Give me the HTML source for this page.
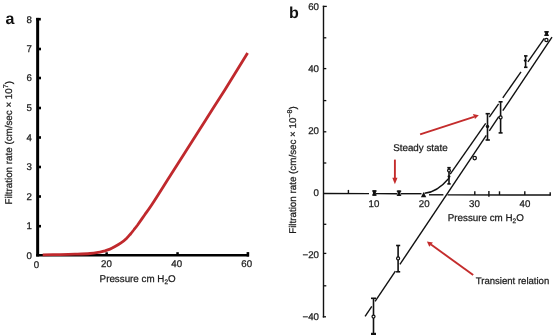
<!DOCTYPE html>
<html><head><meta charset="utf-8"><style>
html,body{margin:0;padding:0;background:#fff;width:553px;height:335px;overflow:hidden}
svg{display:block}
text{font-family:"Liberation Sans",Arial,sans-serif;fill:#1c1c1c;text-rendering:geometricPrecision;stroke:#1c1c1c;stroke-width:0.25px}
.t{font-size:9px}
.tr{font-size:9.7px;text-anchor:end}
.tm{font-size:9.7px;text-anchor:middle}
.lab{font-size:9.8px}
.pan{font-size:16px;font-weight:bold;fill:#111;stroke:none}
</style></head><body>
<svg width="553" height="335" viewBox="0 0 553 335">
<rect width="553" height="335" fill="#fff"/>

<!-- ===== Panel a ===== -->
<text class="pan" x="5.5" y="23.7">a</text>
<!-- y axis -->
<line x1="37.65" y1="17.9" x2="37.65" y2="256.5" stroke="#000" stroke-width="3"/>
<rect x="36.2" y="17.9" width="4.6" height="2.6" fill="#000"/>
<g fill="#000">
<rect x="39" y="47.7" width="2" height="2.6"/>
<rect x="39" y="76.7" width="2" height="2.6"/>
<rect x="39" y="106.7" width="2" height="2.6"/>
<rect x="39" y="136.2" width="2" height="2.6"/>
<rect x="39" y="165.7" width="2" height="2.6"/>
<rect x="39" y="195.2" width="2" height="2.6"/>
<rect x="39" y="224.9" width="2" height="2.6"/>
</g>
<!-- x axis -->
<line x1="36.2" y1="255.3" x2="249" y2="255.3" stroke="#000" stroke-width="2.5"/>
<g fill="#000">
<rect x="105.4" y="252.3" width="2.5" height="2.5"/>
<rect x="176.3" y="252.2" width="2.5" height="2.5"/>
<rect x="246.6" y="252.1" width="2.6" height="4.4"/>
</g>
<!-- y tick labels -->
<g class="tr">
<text class="tr" x="31.9" y="22.5">8</text>
<text class="tr" x="31.9" y="51.8">7</text>
<text class="tr" x="31.9" y="81">6</text>
<text class="tr" x="31.9" y="111">5</text>
<text class="tr" x="31.9" y="140.5">4</text>
<text class="tr" x="31.9" y="170">3</text>
<text class="tr" x="31.9" y="199.5">2</text>
<text class="tr" x="31.9" y="229.2">1</text>
<text class="tr" x="31.9" y="258.9">0</text>
</g>
<!-- x tick labels -->
<text class="tm" x="36.5" y="267.8">0</text>
<text class="tm" x="106.5" y="267.4">20</text>
<text class="tm" x="176.7" y="267.4">40</text>
<text class="tm" x="246.7" y="267.4">60</text>
<text class="lab" x="99.6" y="281.8">Pressure cm H<tspan font-size="6.5" dy="2.3">2</tspan><tspan dy="-2.3">O</tspan></text>
<text class="lab" transform="translate(11.9,204.5) rotate(-90)" x="0" y="0">Filtration rate (cm/sec × 10<tspan font-size="7" dy="-3.9">7</tspan><tspan dy="3.9">)</tspan></text>
<!-- red curve -->
<path d="M42.7,254.8 C45.6,254.8 54.6,254.7 60.0,254.6 C65.4,254.5 70.0,254.4 75.0,254.2 C80.0,254.0 85.8,253.8 90.0,253.5 C94.2,253.2 97.5,252.5 100.0,252.1 C102.5,251.7 103.3,251.3 105.0,250.8 C106.7,250.3 108.3,249.8 110.0,249.1 C111.7,248.4 113.2,247.5 115.0,246.5 C116.8,245.5 119.1,244.2 121.0,242.9 C122.9,241.6 124.9,239.9 126.5,238.4 C128.1,236.9 129.2,235.5 130.5,234.0 C131.8,232.5 132.9,231.0 134.1,229.5 C135.3,228.0 135.8,227.4 137.6,225.0 C139.3,222.6 142.3,218.3 144.6,215.0 C146.9,211.7 147.8,210.8 151.6,205.0 C155.5,199.2 161.7,189.2 167.5,180.0 C173.4,170.8 180.2,160.0 186.6,150.0 C193.0,140.0 199.3,130.0 205.7,120.0 C212.0,110.0 221.6,95.0 224.8,90.0 L247.6,52.9" fill="none" stroke="#c0292d" stroke-width="2.8" stroke-linecap="butt"/>

<!-- ===== Panel b ===== -->
<text class="pan" x="289" y="17.5">b</text>
<!-- y axis -->
<line x1="323.5" y1="5.8" x2="323.5" y2="317.5" stroke="#111" stroke-width="1.4"/>
<g stroke="#111" stroke-width="1.3">
<line x1="322.8" y1="6.4" x2="326.8" y2="6.4"/>
<line x1="323.5" y1="37.8" x2="326.3" y2="37.8"/>
<line x1="323.5" y1="68.6" x2="326.3" y2="68.6"/>
<line x1="323.5" y1="100.6" x2="326.3" y2="100.6"/>
<line x1="323.5" y1="131.8" x2="326.3" y2="131.8"/>
<line x1="323.5" y1="163" x2="326.3" y2="163"/>
<line x1="323.5" y1="224.3" x2="326.3" y2="224.3"/>
<line x1="323.5" y1="253.4" x2="326.3" y2="253.4"/>
<line x1="323.5" y1="285.8" x2="326.3" y2="285.8"/>
<line x1="322.8" y1="316.8" x2="326" y2="316.8"/>
</g>
<!-- y labels -->
<text class="tr" x="319" y="9.6">60</text>
<text class="tr" x="319" y="71.7">40</text>
<text class="tr" x="319" y="133.8">20</text>
<text class="tr" x="319" y="196">0</text>
<text class="tr" x="319" y="257.6">−20</text>
<text class="tr" x="319" y="320">−40</text>
<!-- x axis -->
<g stroke="#111" stroke-width="1.4" fill="none">
<polyline points="323.5,193.5 369,193.6"/>
<polyline points="376,193.6 397,193.7"/>
<polyline points="401,193.7 421.5,193.7"/>
<polyline points="429,194.8 443.4,194.8"/>
<polyline points="447.5,194.9 550.8,195"/>
<line x1="348.4" y1="189.9" x2="348.4" y2="193.5"/>
<line x1="474.8" y1="191.3" x2="474.8" y2="195"/>
<line x1="488.9" y1="190.9" x2="488.9" y2="196.8"/>
<line x1="499.5" y1="191.3" x2="499.5" y2="195"/>
<line x1="524.8" y1="191.3" x2="524.8" y2="195"/>
<line x1="550.2" y1="192.2" x2="550.2" y2="195.5"/>
</g>
<!-- x labels -->
<text class="tm" x="374" y="207.3">10</text>
<text class="tm" x="424.2" y="207.3">20</text>
<text class="tm" x="474.4" y="207.3">30</text>
<text class="tm" x="524.9" y="207.3">40</text>
<text class="lab" x="447.8" y="220.8">Pressure cm H<tspan font-size="6.5" dy="2.3">2</tspan><tspan dy="-2.3">O</tspan></text>
<text class="lab" transform="translate(295.6,233.8) rotate(-90)" x="0" y="0">Filtration rate (cm/sec × 10<tspan font-size="7" dy="-3.9">−8</tspan><tspan dy="3.9">)</tspan></text>

<!-- markers on axis -->
<g fill="#111">
<rect x="372.2" y="190.3" width="4.4" height="1.4"/><rect x="372.2" y="194.3" width="4.4" height="1.4"/><rect x="372.9" y="190.3" width="3" height="5.4"/>
<rect x="396.8" y="190.5" width="4.4" height="1.4"/><rect x="396.8" y="194.5" width="4.4" height="1.4"/><rect x="397.5" y="190.5" width="3" height="5.4"/>
<path d="M423.6,192 L426.3,197.3 L420.9,197.3 Z"/>
</g>

<!-- steady state line/curve -->
<path d="M424.5,193.2 C432,192.9 441,187.6 449.2,178" fill="none" stroke="#111" stroke-width="1.4"/>
<g stroke="#111" stroke-width="1.4" fill="none">
<line x1="450.2" y1="174.2" x2="485.7" y2="123.4"/>
<line x1="489.3" y1="117.1" x2="498.6" y2="103.8"/>
<line x1="502.8" y1="97.9" x2="521" y2="71.9"/>
<line x1="527.9" y1="61.8" x2="544.3" y2="38.3"/>
</g>
<!-- transient line -->
<g stroke="#111" stroke-width="1.4" fill="none">
<line x1="365.1" y1="316.3" x2="371.8" y2="306.3"/>
<line x1="375.1" y1="301.4" x2="395.4" y2="271.1"/>
<line x1="399.9" y1="264.4" x2="486.3" y2="135.4"/>
<line x1="489.3" y1="130.9" x2="498.8" y2="116.7"/>
<line x1="502.8" y1="110.7" x2="552" y2="37.2"/>
</g>

<!-- error bars -->
<g stroke="#111" stroke-width="1.6" fill="none">
<line x1="373.5" y1="298.1" x2="373.5" y2="335"/>
<line x1="371" y1="298.3" x2="376" y2="298.3"/>
<line x1="398.1" y1="245.4" x2="398.1" y2="272"/>
<line x1="396.1" y1="245.5" x2="400.2" y2="245.5"/>
<line x1="396.1" y1="271.8" x2="400.2" y2="271.8"/>
<line x1="449" y1="167.6" x2="449" y2="184"/>
<line x1="447.3" y1="167.7" x2="450.7" y2="167.7"/>
<line x1="447.3" y1="183.9" x2="450.7" y2="183.9"/>
<line x1="487.5" y1="113.6" x2="487.5" y2="140.1"/>
<line x1="485.6" y1="113.7" x2="489.9" y2="113.7"/>
<line x1="485.6" y1="140" x2="489.9" y2="140"/>
<line x1="500.6" y1="101.7" x2="500.6" y2="133"/>
<line x1="498.6" y1="101.8" x2="502.6" y2="101.8"/>
<line x1="498.6" y1="132.9" x2="502.6" y2="132.9"/>
<line x1="525.6" y1="55.8" x2="525.6" y2="67.4"/>
<line x1="524" y1="55.9" x2="527.5" y2="55.9"/>
<line x1="524" y1="67.3" x2="527.5" y2="67.3"/>
</g>
<rect x="371" y="332.8" width="5" height="2.2" fill="#111"/>
<g fill="#111"><rect x="544.2" y="31.2" width="4.7" height="1.3"/><rect x="544.2" y="34.6" width="4.7" height="1.3"/><rect x="545.1" y="31.2" width="2.9" height="4.7"/></g>
<!-- markers -->
<g stroke="#111" stroke-width="1.25" fill="#fff">
<circle cx="373.5" cy="316.5" r="1.5"/>
<circle cx="398.1" cy="258.4" r="1.5"/>
<circle cx="449" cy="170.6" r="1.4"/>
<circle cx="474.7" cy="158.1" r="1.7"/>
<circle cx="500.6" cy="117.4" r="1.5"/>
<circle cx="546.4" cy="40" r="1.6"/>
</g>
<g fill="#111">
<circle cx="487.5" cy="126.4" r="1.7"/>
<circle cx="449" cy="176.6" r="1.4"/>
<path d="M525.3,58.8 L527,60.6 L525.3,62.4 L523.6,60.6 Z"/>
</g>

<!-- red arrows -->
<g stroke="#c42c2c" stroke-width="1.9" fill="none">
<line x1="420.1" y1="134.4" x2="474" y2="116.9"/>
<line x1="394.9" y1="159.6" x2="394.9" y2="178.5"/>
<line x1="473.2" y1="274.9" x2="431" y2="244.6"/>
</g>
<g fill="#c42c2c">
<path d="M478.8,115.3 L472.9,113.9 L475,119 Z"/>
<path d="M394.9,184.2 L392.3,177.8 L397.5,177.8 Z"/>
<path d="M426.9,241.6 L432.9,242.6 L429.3,246.8 Z"/>
</g>

<text class="lab" x="393.2" y="151.4">Steady state</text>
<text class="lab" x="475.8" y="283.8" style="font-size:9.55px">Transient relation</text>
</svg>
</body></html>
